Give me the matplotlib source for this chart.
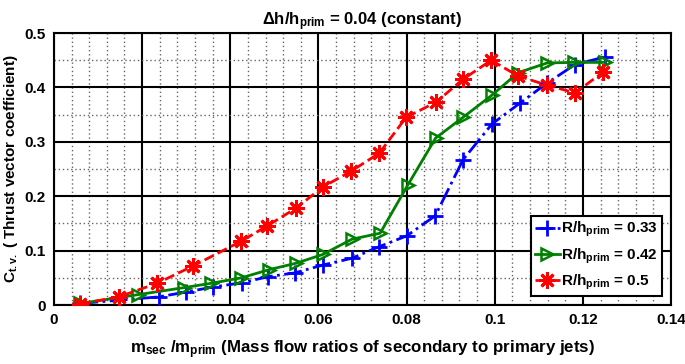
import matplotlib
import matplotlib.pyplot as plt
from matplotlib.ticker import MultipleLocator

matplotlib.use("Agg")

plt.rcParams["font.family"] = ["Liberation Sans", "DejaVu Sans"]
plt.rcParams["mathtext.fontset"] = "custom"
plt.rcParams["mathtext.rm"] = "Liberation Sans:bold"
plt.rcParams["mathtext.it"] = "Liberation Sans:bold"
plt.rcParams["mathtext.bf"] = "Liberation Sans:bold"

# R/h_prim = 0.33
x_033 = [0.006, 0.0238, 0.030, 0.036, 0.0427, 0.0485, 0.0546, 0.061, 0.0676,
         0.0737, 0.080, 0.0865, 0.0928, 0.0994, 0.1057, 0.1119, 0.1182, 0.125]
y_033 = [0.003, 0.015, 0.024, 0.033, 0.041, 0.052, 0.059, 0.0735, 0.086,
         0.107, 0.127, 0.164, 0.267, 0.333, 0.371, 0.408, 0.442, 0.456]

# R/h_prim = 0.42
x_042 = [0.006, 0.019, 0.0295, 0.0357, 0.0425, 0.0488, 0.055, 0.061, 0.0676,
         0.074, 0.0803, 0.0866, 0.0928, 0.0994, 0.1053, 0.1119, 0.118, 0.125]
y_042 = [0.003, 0.019, 0.032, 0.040, 0.050, 0.065, 0.077, 0.093, 0.121,
         0.132, 0.221, 0.307, 0.345, 0.386, 0.427, 0.445, 0.446, 0.446]

# R/h_prim = 0.5
x_05 = [0.006, 0.0147, 0.0234, 0.0316, 0.0424, 0.0483, 0.0549, 0.061, 0.0674,
        0.0738, 0.0799, 0.0867, 0.0928, 0.0992, 0.1053, 0.1119, 0.1182, 0.1246]
y_05 = [0.002, 0.015, 0.040, 0.072, 0.117, 0.145, 0.178, 0.217, 0.246,
        0.279, 0.345, 0.373, 0.415, 0.450, 0.421, 0.404, 0.390, 0.428]

labels = [r"R/h$_{\mathregular{prim}}$ = 0.33",
          r"R/h$_{\mathregular{prim}}$ = 0.42",
          r"R/h$_{\mathregular{prim}}$ = 0.5"]

fig = plt.figure(figsize=(6.85, 3.64), dpi=100, facecolor="white")
ax = fig.add_axes([0.0788, 0.162, 0.9008, 0.7473])

ax.plot(x_033, y_033, color="#0000ff", linestyle="-.", linewidth=2,
        marker="+", markersize=12, markeredgewidth=2, label=labels[0], zorder=3)
ax.plot(x_042, y_042, color="#008000", linestyle="-", linewidth=2,
        marker=">", markersize=9, markerfacecolor="none", markeredgewidth=1.8,
        label=labels[1], zorder=3)
ax.plot(x_05, y_05, color="#ff0000", linestyle="--", linewidth=2,
        marker=(8, 2, 0), markersize=12, markeredgewidth=2, label=labels[2],
        zorder=3)

ax.set_xlim(0, 0.14)
ax.set_ylim(0, 0.5)
ax.xaxis.set_minor_locator(MultipleLocator(0.004))
ax.yaxis.set_minor_locator(MultipleLocator(0.05))
ax.set_xticks([0, 0.02, 0.04, 0.06, 0.08, 0.1, 0.12, 0.14])
ax.set_xticklabels(["0", "0.02", "0.04", "0.06", "0.08", "0.1", "0.12", "0.14"])
ax.set_yticks([0, 0.1, 0.2, 0.3, 0.4, 0.5])
ax.set_yticklabels(["0", "0.1", "0.2", "0.3", "0.4", "0.5"])

ax.grid(which="major", color="black", linestyle="-", linewidth=1.5, zorder=1)
ax.grid(which="minor", color="#666666", linestyle=(0, (1, 2)), linewidth=1.0,
        zorder=1)
ax.set_axisbelow(True)

for spine in ax.spines.values():
    spine.set_linewidth(1.5)
    spine.set_color("black")

ax.tick_params(which="both", direction="in", length=0, labelsize=11, pad=6)
for lbl in ax.get_xticklabels() + ax.get_yticklabels():
    lbl.set_fontweight("bold")

ax.set_title(r"$\Delta$h/h$_{\mathregular{prim}}$ = 0.04 (constant)",
             fontsize=12, fontweight="bold", pad=5)
ax.set_xlabel(r"m$_{\mathregular{sec}}$ /m$_{\mathregular{prim}}$ (Mass flow ratios of secondary to primary jets)",
              fontsize=12.2, fontweight="bold", labelpad=8)
ax.set_ylabel(r"C$_{\mathregular{t.v.}}$ ( Thrust vector coefficient)",
              fontsize=11, fontweight="bold", labelpad=3)

leg = ax.legend(loc="lower right", bbox_to_anchor=(0.985, 0.035),
                prop={"weight": "bold", "size": 11}, frameon=True,
                fancybox=False, edgecolor="black", framealpha=1,
                handlelength=1.6, handletextpad=0.1, borderpad=0.25,
                labelspacing=0.45, borderaxespad=0)
leg.get_frame().set_linewidth(1.5)

plt.savefig("out.png", dpi=100, facecolor=fig.get_facecolor())
plt.close()
